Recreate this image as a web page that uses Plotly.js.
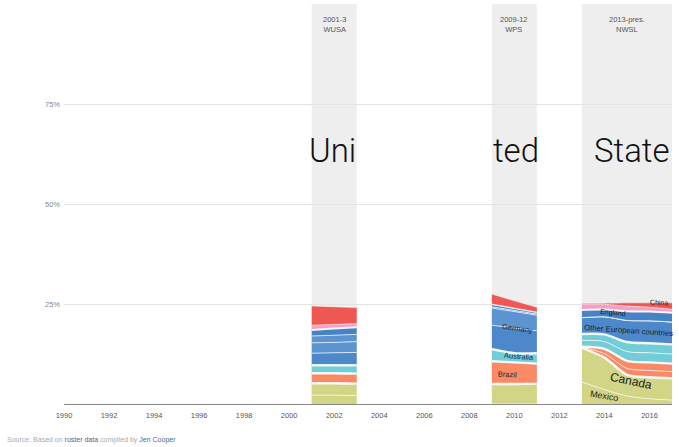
<!DOCTYPE html>
<html>
<head>
<meta charset="utf-8">
<script src="https://cdn.plot.ly/plotly-3.0.1.min.js"></script>
<style>html,body{margin:0;padding:0;background:#fff;}#chart{width:679px;height:447px;}</style>
</head>
<body>
<div id="chart"></div>
<script>
// ---- data (share of league rosters, %) ----
const years   = [2001, 2002, 2003, 2009, 2010, 2011, 2013, 2014, 2015, 2016, 2017];
const leagues = ['WUSA','WUSA','WUSA','WPS','WPS','WPS','NWSL','NWSL','NWSL','NWSL','NWSL'];
const leagueNames = ['WUSA', 'WPS', 'NWSL'];
const leagueLabels = ['2001-3<br>WUSA', '2009-12<br>WPS', '2013-pres.<br>NWSL'];
const leagueStart = [2001, 2009, 2013];
const leagueEnd   = [2003, 2011, 2017];

const mexico        = [2.2, 2.2, 2.1, 0.0, 0.0, 0.0, 5.5, 3.6, 2.0, 1.3, 1.0];
const canada        = [3.0, 3.0, 3.0, 5.0, 5.0, 5.1, 8.5, 8.0, 5.3, 5.4, 5.4];
const brazil        = [2.5, 2.5, 2.5, 5.7, 5.4, 5.0, 0.2, 1.0, 1.6, 1.7, 1.7];
const otherAmericas = [0.0, 0.0, 0.0, 0.0, 0.0, 0.0, 0.1, 1.2, 1.9, 2.0, 2.0];
const australia     = [2.0, 2.0, 2.1, 3.0, 2.3, 2.6, 1.6, 1.8, 2.3, 2.4, 2.4];
const newZealand    = [0.0, 0.0, 0.0, 0.0, 0.0, 0.0, 1.6, 1.8, 2.4, 2.4, 2.4];
const otherEurope   = [3.0, 3.1, 3.2, 6.0, 6.3, 5.6, 4.1, 4.4, 5.4, 5.6, 5.6];
const germany       = [2.6, 2.6, 2.7, 4.3, 4.1, 3.9, 0.0, 0.0, 0.0, 0.0, 0.0];
const sweden        = [1.7, 1.8, 1.8, 0.3, 0.3, 0.3, 0.0, 0.0, 0.0, 0.0, 0.0];
const england       = [1.5, 1.7, 1.8, 0.7, 0.6, 0.5, 1.9, 1.8, 2.3, 2.3, 2.3];
const japan         = [1.2, 1.0, 0.9, 0.0, 0.0, 0.0, 1.5, 1.3, 1.3, 1.1, 0.9];
const china         = [4.8, 4.4, 4.0, 2.5, 1.8, 1.2, 0.2, 0.3, 0.8, 1.1, 1.6];

const xTicks = [1990,1992,1994,1996,1998,2000,2002,2004,2006,2008,2010,2012,2014,2016];
const yTicks = [25, 50, 75, 100];
const yTickText = ['25%', '50%', '75%', ''];

// ---- series styling ----
const series = [
  {name:'Mexico',                   v:mexico,        c:'#d2d486', w:0.8},
  {name:'Canada',                   v:canada,        c:'#d2d486', w:2.4},
  {name:'Brazil',                   v:brazil,        c:'#fa8a66', w:0.8},
  {name:'Other Americas',           v:otherAmericas, c:'#fa8a66', w:2.4},
  {name:'Australia',                v:australia,     c:'#72cdd8', w:0.8},
  {name:'New Zealand',              v:newZealand,    c:'#72cdd8', w:2.4},
  {name:'Other European countries', v:otherEurope,   c:'#4d89ca', w:0.8},
  {name:'Germany',                  v:germany,       c:'#5b94cf', w:0.8},
  {name:'Sweden',                   v:sweden,        c:'#5b94cf', w:0.8},
  {name:'England',                  v:england,       c:'#4683c6', w:2.0},
  {name:'Japan',                    v:japan,         c:'#f4a0c4', w:0.6},
  {name:'China',                    v:china,         c:'#ef5753', w:0.6}
];

const traces = [];
leagueNames.forEach(lg => {
  const idx = years.map((y,i)=>i).filter(i => leagues[i] === lg);
  series.forEach(s => {
    traces.push({
      type:'scatter', mode:'lines', name:s.name, stackgroup:lg,
      x: idx.map(i => years[i]), y: idx.map(i => s.v[i]),
      line:{color:'rgba(255,255,255,0.9)', width:s.w, shape:'spline', smoothing:0.8},
      fillcolor:s.c, hoverinfo:'skip', showlegend:false
    });
  });
});

const shapes = leagueStart.map((x0,i) => ({
  type:'rect', xref:'x', yref:'y', x0:x0, x1:leagueEnd[i], y0:0, y1:100,
  fillcolor:'#eeeeee', line:{width:0}, layer:'below'
}));

const lab = (t, x, y, size, ang) => ({
  text:t, x:x, y:y, xref:'x', yref:'y', showarrow:false, textangle:ang,
  font:{family:'Liberation Sans, Arial, sans-serif', size:size, color:'#222'}
});

const big = (t, x) => ({
  text:t, x:x, y:63.5, xref:'x', yref:'y', xanchor:'left', yanchor:'middle', showarrow:false,
  font:{family:'Roboto, Liberation Sans, sans-serif', size:33, color:'#111', weight:300}
});

const annotations = [
  ...leagueLabels.map((t,i) => ({
    text:t, x:(leagueStart[i]+leagueEnd[i])/2, y:0.9775, xref:'x', yref:'paper',
    yanchor:'top', showarrow:false,
    font:{family:'Liberation Sans, Arial, sans-serif', size:7.5, color:'#555'}
  })),
  big('Uni', 2000.78), big('ted', 2008.98), big('State', 2013.45),
  lab('Germany', 2010.15, 19.0, 7.5, 8),
  lab('Australia', 2010.2, 12.0, 7.5, 5),
  lab('Brazil', 2009.7, 7.5, 7.5, 3),
  lab('Mexico', 2014.0, 2.0, 9, 10),
  lab('Canada', 2015.2, 5.8, 12, 12),
  lab('Other European countries', 2015.05, 18.4, 7.8, 4),
  lab('England', 2014.4, 22.7, 7, 5),
  lab('China', 2016.42, 25.5, 7, 3),
  {text:'Source: Based on <span style="color:#4a6796">roster data</span> compiled by <span style="color:#4a6796">Jen Cooper</span>',
   x:-0.097, y:-0.09, xref:'paper', yref:'paper', xanchor:'left', yanchor:'middle', showarrow:false,
   font:{family:'Liberation Sans, Arial, sans-serif', size:7, color:'#aaa'}}
];

const layout = {
  width:679, height:447,
  margin:{l:64, r:7, t:4, b:43},
  paper_bgcolor:'#fff', plot_bgcolor:'#fff',
  showlegend:false,
  xaxis:{range:[1990, 2017], tickvals:xTicks, showgrid:false, zeroline:false,
         showline:true, linecolor:'#888', linewidth:1, ticks:'', ticklabelstandoff:4,
         tickfont:{family:'Liberation Sans, Arial, sans-serif', size:7.5, color:'#555'}, fixedrange:true},
  yaxis:{range:[0, 100], tickvals:yTicks, ticktext:yTickText, showgrid:true, gridcolor:'#e3e3e3',
         gridwidth:1, zeroline:false, showline:false, ticks:'', ticklabelstandoff:3,
         tickfont:{family:'Liberation Sans, Arial, sans-serif', size:7.5, color:'#888'}, fixedrange:true},
  shapes:shapes,
  annotations:annotations
};

Plotly.newPlot('chart', traces, layout, {displayModeBar:false, staticPlot:true});
</script>
</body>
</html>
